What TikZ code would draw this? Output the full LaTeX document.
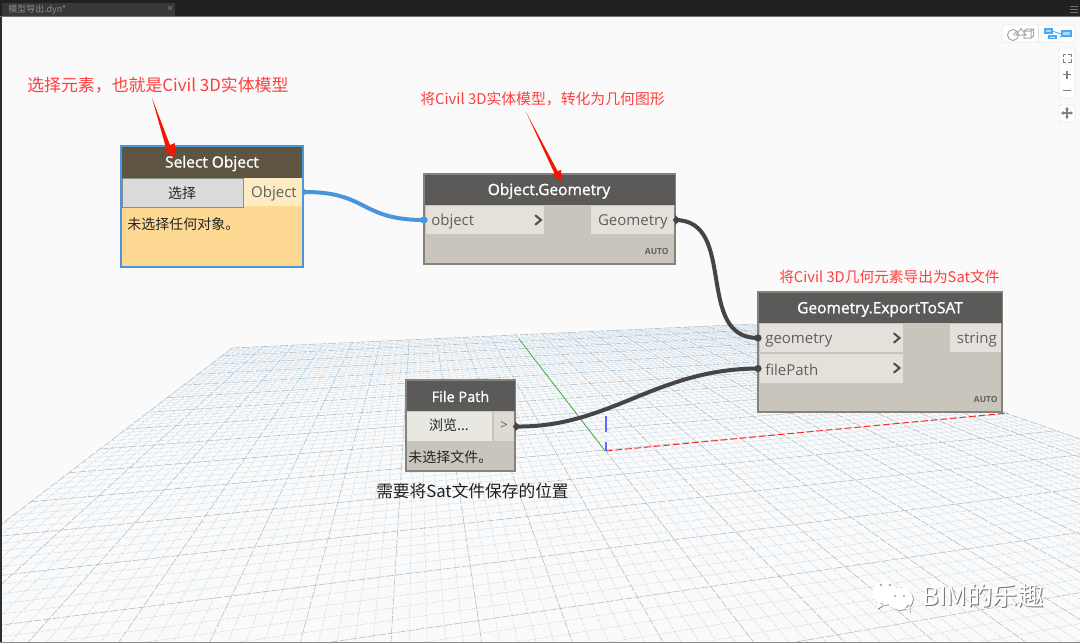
\documentclass[tikz,border=0pt]{standalone}
\usepackage{fontspec}
\setmainfont{Open Sans}
\newfontfamily\semi[FakeBold=1.2]{Open Sans}
\newfontfamily\cjk{Noto Sans CJK SC}
\begin{document}
\definecolor{canvas}{HTML}{FAFAFA}
\definecolor{minorgrid}{HTML}{CFE0EC}
\definecolor{majorgrid}{HTML}{B2BEC7}
\definecolor{nodebody}{HTML}{C9C4BC}
\definecolor{nodehead}{HTML}{5C5A58}
\definecolor{nodeedge}{HTML}{85827C}
\definecolor{portfill}{HTML}{E4E1DB}
\definecolor{porttext}{HTML}{5F5F5F}
\definecolor{annored}{HTML}{FF3F3F}
\definecolor{wiredark}{HTML}{454545}
\definecolor{wireblue}{HTML}{4A96DC}
\definecolor{uigrey}{HTML}{A8A8A8}
\definecolor{uiblue}{HTML}{4AA8F0}
% font size in reference pixels
\newcommand{\fpx}[1]{\fontsize{\dimexpr#1pt*3/4\relax}{\dimexpr#1pt\relax}\selectfont}
% box node from pixel corners
\newcommand{\pxbox}[6]{%
  \pgfmathsetmacro{\bw}{(#4-#2)*0.75}\pgfmathsetmacro{\bh}{(#5-#3)*0.75}%
  \node[#6,minimum width=\bw pt,minimum height=\bh pt,inner sep=0pt,outer sep=0pt,anchor=center]
    (#1) at ({(#2+#4)/2},{(#3+#5)/2}) {};}
\newcommand{\gridpt}[2]{%
  \pgfmathsetmacro{\dd}{1+0.01757*(#1)+0.0899*(#2)}%
  \pgfmathsetmacro{\gx}{(605+0.01757*(#1)*3300+0.0899*(#2)*417)/\dd}%
  \pgfmathsetmacro{\gy}{207+243/\dd}}
\begin{tikzpicture}[x=0.75pt,y=-0.75pt,
  gridminor/.style={minorgrid,line width=0.4pt,dash pattern=on 3.2pt off 0.9pt},
  gridmajor/.style={majorgrid,line width=0.45pt,dash pattern=on 6pt off 1.2pt},
  title/.style={text=white,font=\semi\fpx{15.5},inner sep=0pt},
  port/.style={text=porttext,font=\fpx{15},inner sep=0pt},
  auto tag/.style={text=black!50!nodebody,font=\fpx{8.5}\bfseries,inner sep=0pt,anchor=east},
  note/.style={text=annored,inner sep=0pt},
  body text/.style={text=black!85,inner sep=0pt},
  chev/.style={draw=black!70,line width=1.5pt,line cap=round},
  wire/.style={line width=3pt,line cap=round},
  uibox/.style={fill=white,draw=black!8,line width=0.6pt,rounded corners=1.5pt},
  uiline/.style={draw=uigrey,line width=0.75pt},
  pointer/.style={fill=red!80!orange!95!black,draw=none}]
\useasboundingbox (0,0) rectangle (1080,643);
\fill[canvas] (0,0) rectangle (1080,643);
% ground grid in perspective
\begin{scope}
\clip (2,16) rectangle (1080,641);
\foreach \i in {-50,...,50}{
  \pgfmathsetmacro{\t}{\i/5}
  \pgfmathtruncatemacro{\maj}{mod(abs(\i),5)==0 ? 1 : 0}
  \ifnum\maj=0 \def\gs{gridminor}\else \def\gs{gridmajor}\fi
  % lines towards the left-hand vanishing point
  \pgfmathsetmacro{\vmin}{max(-10,(0.3-1-0.01757*\t)/0.0899)}
  \gridpt{\t}{\vmin}\edef\ax{\gx}\edef\ay{\gy}
  \gridpt{\t}{10}\edef\bx{\gx}\edef\by{\gy}
  \draw[\gs] (\ax,\ay) -- (\bx,\by);
  % lines towards the right-hand vanishing point
  \pgfmathsetmacro{\umin}{max(-10,(0.3-1-0.0899*\t)/0.01757)}
  \gridpt{\umin}{\t}\edef\ax{\gx}\edef\ay{\gy}
  \gridpt{10}{\t}\edef\bx{\gx}\edef\by{\gy}
  \draw[\gs] (\ax,\ay) -- (\bx,\by);
}
\end{scope}
% axes
\draw[green!60!black!80,line width=0.5pt] (519,339) -- (605,451);
\draw[red!85!white,line width=0.7pt,dash pattern=on 5pt off 2.2pt] (606,451) -- (1008,413);
\draw[blue!60!white,line width=0.8pt] (606,416) -- (606,432) (606,442) -- (606,451);
% window chrome
\fill[black!82] (0,0) rectangle (2,643);
\fill[black!87] (0,0) rectangle (1080,16);
\fill[black!78] (2,3) rectangle (175,16);
\fill[black!55] (0,15.5) rectangle (1080,16.5);
\fill[black!45] (0,641.5) rectangle (1080,643);
\node[anchor=west,text=black!45,font=\cjk\fpx{9},inner sep=0pt] (tab) at (8,9.5) {模型导出.dyn*};
\node[text=black!50,font=\fpx{11},inner sep=0pt] (tabx) at (170,9.5) {×};
\draw[black!55,line width=1pt] (1070,6.5) -- (1078,6.5) (1070,9.5) -- (1078,9.5) (1070,12.5) -- (1078,12.5);
% view controls
\pxbox{viewsw}{1002}{25}{1075}{42}{uibox}
\draw[black!10,line width=0.5pt] (1038.5,25) -- (1038.5,42);
\draw[uiline] (1013,35) circle (5.5) (1013,35) -- (1017,31);
\draw[uiline] (1016,35) -- (1021,28.5) -- (1026,35) -- cycle;
\draw[uiline] (1024,31) rectangle (1031,38) (1024,31) -- (1026.5,29) -- (1033.5,29) -- (1031,31) (1033.5,29) -- (1033.5,36) -- (1031,38);
\draw[uiblue,line width=0.7pt] (1052,31) -- (1064,35) (1060,37) -- (1064,35);
\draw[uiblue,line width=0.8pt,fill=uiblue!45] (1045,29) rectangle (1052,33);
\draw[uiblue,line width=0.8pt,fill=uiblue!45] (1062,31) rectangle (1071,36);
\draw[uiblue,line width=0.8pt,fill=uiblue!30] (1049,36) rectangle (1056,38.5);
\pxbox{zoombox}{1059}{48}{1075}{98}{uibox}
\pxbox{panbox}{1059}{105}{1075}{122}{uibox}
\draw[black!50,line width=0.7pt] (1063,57) -- (1063,54) -- (1066,54) (1068,54) -- (1071,54) -- (1071,57) (1071,59) -- (1071,62) -- (1068,62) (1066,62) -- (1063,62) -- (1063,59);
\draw[black!50,line width=0.8pt] (1063,74.5) -- (1071,74.5) (1067,70.5) -- (1067,78.5) (1063,90.5) -- (1071,90.5);
\draw[black!50,line width=1pt] (1062,113) -- (1072,113) (1067,108) -- (1067,118);
\fill[black!50] (1061,113) -- (1063.5,111) -- (1063.5,115) -- cycle (1073,113) -- (1070.5,111) -- (1070.5,115) -- cycle (1067,107) -- (1065,109.5) -- (1069,109.5) -- cycle (1067,119) -- (1065,116.5) -- (1069,116.5) -- cycle;
% Select Object
\pxbox{selectnode}{121}{146}{303}{267}{fill={rgb,255:red,253;green,217;blue,148},draw=wireblue,line width=1.9pt}
\pxbox{selecthead}{122}{147}{302}{178}{fill={rgb,255:red,94;green,84;blue,66}}
\pxbox{selectbtn}{122.5}{178.5}{243}{207}{fill=black!14,draw=black!45,line width=0.75pt}
\pxbox{selectport}{244}{178}{302}{206}{fill={rgb,255:red,253;green,235;blue,195}}
\node[title] (selecttitle) at (212,163.5) {Select Object};
\node[body text,font=\cjk\fpx{14}] (selectlabel) at (182,193.5) {选择};
\node[port] (selectout) at (274,194) {Object};
\node[body text,font=\cjk\fpx{14},anchor=west] (selectmsg) at (127,224.5) {未选择任何对象。};
% Object.Geometry
\pxbox{geomnode}{424}{174}{675}{264}{fill=nodebody,draw=nodeedge,line width=0.9pt}
\pxbox{geomhead}{424.5}{174.5}{674.5}{205}{fill=nodehead}
\pxbox{geomin}{426}{206}{544}{234}{fill=portfill}
\pxbox{geomout}{591}{206}{673.5}{234}{fill=portfill}
\node[title] (geomtitle) at (549,191) {Object.Geometry};
\node[port,anchor=west] (geominlabel) at (431,222) {object};
\node[port,anchor=east] (geomoutlabel) at (668,222) {Geometry};
\draw[chev] (535.5,215.5) -- (541,220) -- (535.5,224.5);
\node[auto tag] (geomauto) at (669,251) {AUTO};
% Geometry.ExportToSAT
\pxbox{satnode}{758}{292}{1002}{412}{fill=nodebody,draw=nodeedge,line width=0.9pt}
\pxbox{sathead}{758.5}{292.5}{1001.5}{323}{fill=nodehead}
\pxbox{satgeom}{760}{324}{903}{352}{fill=portfill}
\pxbox{satfile}{760}{354}{903}{383}{fill=portfill}
\pxbox{satout}{950}{324}{1000.5}{352}{fill=portfill}
\node[title] (sattitle) at (880,309.5) {Geometry.ExportToSAT};
\node[port,anchor=west] (satgeomlabel) at (765,340) {geometry};
\node[port,anchor=west] (satfilelabel) at (765,370) {filePath};
\node[port,anchor=east] (satoutlabel) at (997,340) {string};
\draw[chev] (894,333.5) -- (899.5,338) -- (894,342.5);
\draw[chev] (894,363.5) -- (899.5,368) -- (894,372.5);
\node[auto tag] (satauto) at (998,399) {AUTO};
% File Path
\pxbox{filenode}{406}{380}{515}{471}{fill=nodebody,draw=nodeedge,line width=0.9pt}
\pxbox{filehead}{406.5}{380.5}{514.5}{411}{fill=nodehead}
\pxbox{filebtn}{407}{412}{492}{441}{fill={rgb,255:red,233;green,231;blue,226}}
\pxbox{fileport}{494}{412}{514}{441}{fill={rgb,255:red,222;green,218;blue,211}}
\node[title,font=\semi\fpx{14.5}] (filetitle) at (460.5,396.5) {File Path};
\node[body text,font=\cjk\fpx{14}] (filebrowse) at (449,425) {浏览...};
\node[port,font=\fpx{13}] (fileout) at (504,426) {>};
\node[body text,font=\cjk\fpx{14},anchor=west] (filemsg) at (408,457) {未选择文件。};
% connectors
\draw[wire,wireblue] (selectnode.east |- selectport) ++(2,0) coordinate (a1)
  .. controls (368,192) and (360,220) .. (geomnode.west |- geomin);
\draw[wire,wiredark] (geomnode.east |- geomout)
  .. controls (738,220) and (694,338) .. (satnode.west |- satgeom);
\draw[wire,wiredark] (filenode.east |- fileport)
  .. controls (610,428) and (655,369) .. (satnode.west |- satfile);
\fill[wireblue] (selectnode.east |- selectport) ++(-0.5,-4.5) -- ++(3.5,3) -- ++(0,3) -- ++(-3.5,3) -- cycle;
\fill[wireblue] (geomnode.west |- geomin) circle (3.6);
\fill[wiredark] (geomnode.east |- geomout) ++(0,-5) -- ++(4,3.5) -- ++(0,3) -- ++(-4,3.5) -- cycle;
\fill[wiredark] (satnode.west |- satgeom) circle (3.6);
\fill[wiredark] (satnode.west |- satfile) circle (3.6);
\fill[wiredark] (filenode.east |- fileport) ++(0,-5) -- ++(4,3.5) -- ++(0,3) -- ++(-4,3.5) -- cycle;
% annotations
\node[note,font=\cjk\fpx{16.9},anchor=west] (note1) at (27,85) {选择元素，也就是Civil 3D实体模型};
\node[note,font=\cjk\fpx{14.85},anchor=west] (note2) at (420,99.5) {将Civil 3D实体模型，转化为几何图形};
\node[note,font=\cjk\fpx{14.7},anchor=west] (note3) at (779,276.5) {将Civil 3D几何元素导出为Sat文件};
\node[text=black!88,inner sep=0pt,font=\cjk\fpx{16.7},anchor=west] (note4) at (376,491) {需要将Sat文件保存的位置};
\fill[pointer] (152,98) -- (170,145) -- (175,143) -- (174.5,158) -- (163,149) -- (166,148) -- cycle;
\fill[pointer] (526,112) -- (557.5,171) -- (561,170) -- (562,183) -- (553,175) -- (554.5,173.5) -- cycle;
% watermark
\begin{scope}
\fill[black!45,shift={(0.8,0.8)}] (885,593) ellipse (13 and 12) (878,603) -- (877,609) -- (885,604) -- cycle;
\fill[white] (885,593) ellipse (13 and 12) (878,603) -- (877,609) -- (885,604) -- cycle;
\fill[black!45,shift={(0.8,0.8)}] (900,599) ellipse (13 and 11) (905,608) -- (910,612) -- (909,604) -- cycle;
\fill[white] (900,599) ellipse (13 and 11) (905,608) -- (910,612) -- (909,604) -- cycle;
\fill[black!35] (881,585) circle (1.3) (890,585) circle (1.3) (895,596) circle (1.2) (904,596) circle (1.2);
\end{scope}
\node[text=black!55,font=\cjk\fpx{25.5},inner sep=0pt,anchor=west] (markshade) at (923,597) {BIM的乐趣};
\node[text=white,font=\cjk\fpx{25.5},inner sep=0pt,anchor=west] (mark) at (922,596) {BIM的乐趣};
\end{tikzpicture}
\end{document}
